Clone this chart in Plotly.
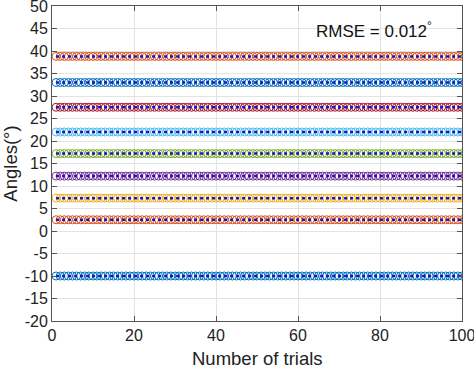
import plotly.graph_objects as go

trials = list(range(1, 101))
true_angles = [-10.0, 2.5, 7.3, 12.2, 17.2, 22.0, 27.5, 33.0, 38.8]
series_colors = ["#0072BD", "#D95319", "#EDB120", "#7E2F8E", "#77AC30",
                 "#4DBEEE", "#A2142F", "#0072BD", "#D95319"]
x_ticks = [0, 20, 40, 60, 80, 100]
y_ticks = list(range(-20, 55, 5))

fig = go.Figure()
for ang, col in zip(true_angles, series_colors):
    fig.add_trace(go.Scatter(
        x=trials, y=[ang] * len(trials), mode="markers",
        marker=dict(symbol="circle-open", size=8, color=col, line=dict(width=1, color=col)),
        showlegend=False, hoverinfo="skip"))
for ang in true_angles:
    fig.add_trace(go.Scatter(
        x=trials, y=[ang] * len(trials), mode="lines",
        line=dict(color="#1414c0", width=2.5, dash="dot"),
        showlegend=False, hoverinfo="skip"))

font_family = "Liberation Sans, Arial"
axis_common = dict(
    showgrid=True, gridcolor="#e3e3e3", gridwidth=1,
    showline=True, linecolor="#555555", linewidth=1, mirror="ticks",
    ticks="inside", ticklen=5, tickcolor="#555555",
    tickfont=dict(family=font_family, size=16, color="#222222"),
    zeroline=False, automargin=False, ticklabeloverflow="allow",
)
fig.update_xaxes(range=[0, 100], tickvals=x_ticks, ticktext=[str(v) for v in x_ticks],
                 **axis_common)
fig.update_yaxes(range=[-20, 50], tickvals=y_ticks, ticktext=[str(v) for v in y_ticks],
                 title=dict(text="Angles(°)", font=dict(family=font_family, size=18.5, color="#222222"), standoff=4),
                 **axis_common)
fig.add_annotation(x=0.5, y=-0.118, xref="paper", yref="paper", text="Number of trials",
                   xanchor="center", yanchor="middle", showarrow=False,
                   font=dict(family=font_family, size=18.5, color="#222222"))
fig.add_annotation(x=78.5, y=44.7, xref="x", yref="y", text="RMSE = 0.012<sup>°</sup>",
                   showarrow=False, font=dict(family=font_family, size=17, color="#111111"))
fig.update_layout(width=474, height=367, margin=dict(l=52, r=12, t=6, b=46),
                  plot_bgcolor="white", paper_bgcolor="white")
fig.write_html("out.html", config={"displayModeBar": False},
               post_script="document.body.style.margin='0';document.body.style.overflow='hidden';")
